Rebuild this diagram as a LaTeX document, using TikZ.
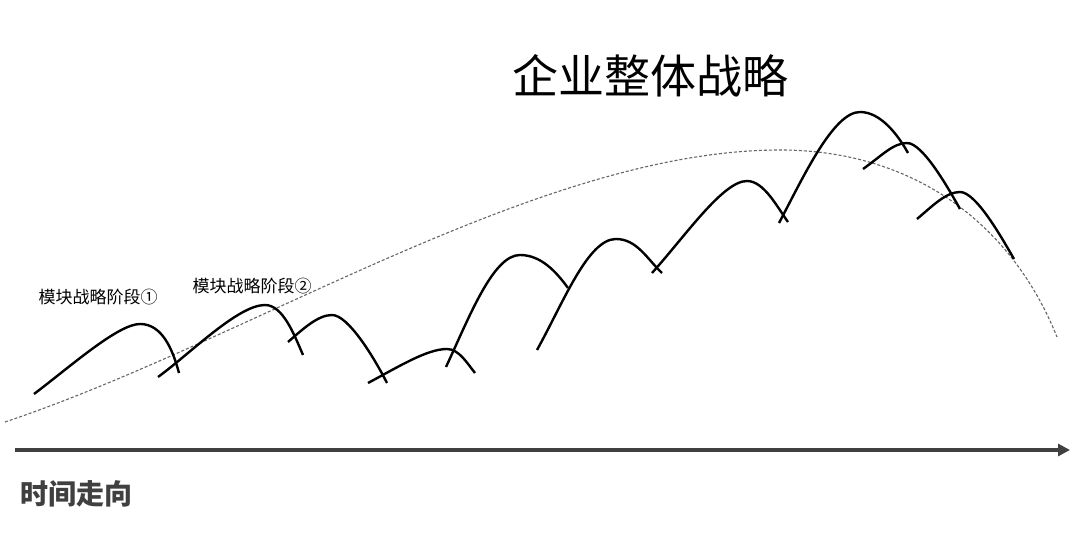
\documentclass[tikz,border=0pt]{standalone}
\usepackage{fontspec}
\newfontfamily\cjk{Noto Sans CJK SC}
\usetikzlibrary{arrows.meta}
\definecolor{axisgray}{HTML}{404040}
\definecolor{trendgray}{HTML}{666666}
\begin{document}
\begin{tikzpicture}[x=1pt,y=1pt,
  hump/.style={line width=2.4pt, black},
  trend/.style={trendgray, line width=1.1pt, dash pattern=on 3pt off 2pt},
  label/.style={inner sep=0pt, font=\cjk\fontsize{17}{20}\selectfont}]
\useasboundingbox (0,0) rectangle (1080,540);
\fill[white] (0,0) rectangle (1080,540);
% overall trend
\draw[trend] (5,118) .. controls (250,200) and (540,390) .. (780,390)
             .. controls (910,390) and (1010,320) .. (1057,203);
% humps: start .. peak .. end
\draw[hump] (34,146) .. controls +(37:45) and +(-22,0) .. (140,216) .. controls +(22,0) and +(105:25) .. (179,167);
\draw[hump] (158,163) .. controls +(36:40) and +(-27,0) .. (265,235) .. controls +(18,0) and +(113.5:22) .. (303,185);
\draw[hump] (288,198) .. controls +(41:20) and +(-14,0) .. (332,225) .. controls +(16,0) and +(117:30) .. (387,157);
\draw[hump] (368,157) .. controls +(28:35) and +(-20,0) .. (447,191) .. controls +(12,0) and +(129:12) .. (475,167);
\draw[hump] (446,173) .. controls +(65:55) and +(-27,0) .. (520,285) .. controls +(21,0) and +(126:20) .. (568,252);
\draw[hump] (537,190) .. controls +(61:55) and +(-28,0) .. (616,301) .. controls +(21,0) and +(137:20) .. (662,267);
\draw[hump] (652,267) .. controls +(48:50) and +(-24,0) .. (747,359) .. controls +(17,0) and +(126:18) .. (788,318);
\draw[hump] (779,317) .. controls +(62:50) and +(-27,0) .. (860,428) .. controls +(21,0) and +(119:20) .. (908,387);
\draw[hump] (863,371) .. controls +(35:22) and +(-14,0) .. (907,397) .. controls +(16,0) and +(119.4:22) .. (960,331);
\draw[hump] (917,321) .. controls +(40:20) and +(-14,0) .. (960,348) .. controls +(16,0) and +(120:25) .. (1014,281);
% time axis
\coordinate (t0) at (15,90);
\coordinate (t1) at (1070,90);
\draw[line width=4pt, axisgray, -{Triangle[length=12pt,width=12pt]}] (t0) -- (t1);
% texts
\node[inner sep=0pt, font=\cjk\fontsize{46}{50}\selectfont] (title) at (650,464) {企业整体战略};
\node[label] (m1) at (98,243) {模块战略阶段①};
\node[label] (m2) at (252,254) {模块战略阶段②};
\node[inner sep=0pt, text=axisgray, font=\cjk\bfseries\fontsize{28}{32}\selectfont] (time) at (76,46) {时间走向};
\end{tikzpicture}
\end{document}
